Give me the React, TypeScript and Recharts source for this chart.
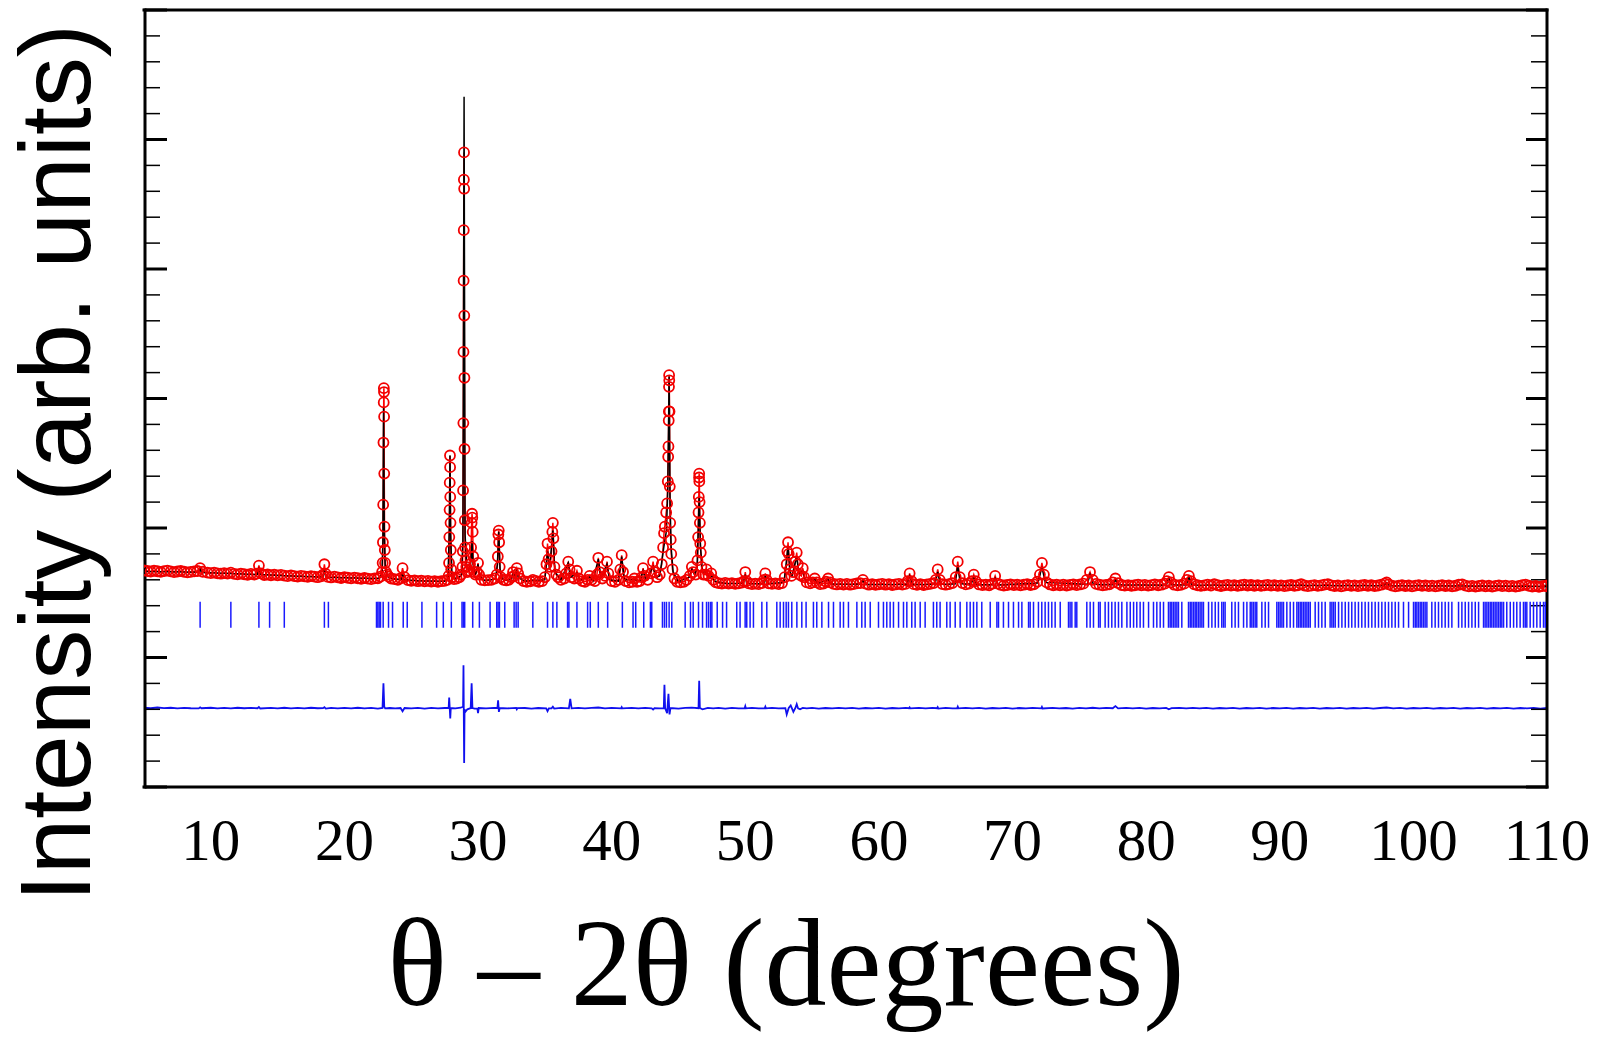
import React from 'react';
import { ComposedChart, Line, Scatter, XAxis, YAxis } from 'recharts';

// Powder diffraction refinement: observed (red circles), calculated (black),
// Bragg reflection markers (blue bars) and difference curve (blue).

const xMajorTicks = [10, 20, 30, 40, 50, 60, 70, 80, 90, 100, 110];
const xMinorTicks = [
  12, 14, 16, 18, 22, 24, 26, 28, 32, 34, 36, 38, 42, 44, 46, 48, 52, 54, 56, 58,
  62, 64, 66, 68, 72, 74, 76, 78, 82, 84, 86, 88, 92, 94, 96, 98, 102, 104, 106, 108,
];
const yMajorTicks = [0, 1, 2, 3, 4, 5, 6];
const yMinorTicks = [
  0.2, 0.4, 0.6, 0.8, 1.2, 1.4, 1.6, 1.8, 2.2, 2.4, 2.6, 2.8, 3.2, 3.4, 3.6, 3.8,
  4.2, 4.4, 4.6, 4.8, 5.2, 5.4, 5.6, 5.8,
];

// [2θ, intensity]
const observed: [number, number][] = [
  [5.0, 1.672], [5.25, 1.668], [5.5, 1.664], [5.75, 1.67], [6.0, 1.666], [6.25, 1.661], [6.5, 1.667], [6.75, 1.671],
  [7.0, 1.665], [7.25, 1.66], [7.5, 1.664], [7.75, 1.668], [8.0, 1.662], [8.25, 1.657], [8.5, 1.661], [8.75, 1.665],
  [9.0, 1.668], [9.2, 1.69], [9.4, 1.662], [9.75, 1.655], [10.0, 1.651], [10.25, 1.656], [10.5, 1.65], [10.75, 1.647],
  [11.0, 1.652], [11.25, 1.648], [11.5, 1.655], [11.75, 1.646], [12.0, 1.642], [12.25, 1.648], [12.5, 1.643], [12.75, 1.639],
  [13.0, 1.645], [13.25, 1.64], [13.45, 1.648], [13.6, 1.71], [13.75, 1.65], [14.0, 1.637], [14.25, 1.641], [14.5, 1.635],
  [14.75, 1.64], [15.0, 1.634], [15.25, 1.638], [15.5, 1.632], [15.75, 1.628], [16.0, 1.634], [16.25, 1.629], [16.5, 1.625],
  [16.75, 1.631], [17.0, 1.626], [17.25, 1.622], [17.5, 1.628], [17.75, 1.624], [18.0, 1.62], [18.25, 1.626], [18.4, 1.64],
  [18.5, 1.72], [18.6, 1.645], [18.75, 1.622], [19.0, 1.618], [19.25, 1.624], [19.5, 1.619], [19.75, 1.614], [20.0, 1.62],
  [20.25, 1.616], [20.5, 1.611], [20.75, 1.617], [21.0, 1.612], [21.25, 1.608], [21.5, 1.614], [21.75, 1.609], [22.0, 1.605],
  [22.25, 1.611], [22.5, 1.612], [22.7, 1.625], [22.82, 1.66], [22.86, 1.73], [22.88, 1.89], [22.9, 2.18], [22.92, 2.66],
  [22.94, 2.97], [22.95, 3.08], [22.96, 3.05], [22.97, 2.86], [22.98, 2.42], [23.0, 2.01], [23.02, 1.83], [23.04, 1.73],
  [23.1, 1.66], [23.2, 1.64], [23.3, 1.625], [23.5, 1.61], [23.75, 1.605], [24.0, 1.6], [24.2, 1.612], [24.35, 1.69],
  [24.5, 1.62], [24.75, 1.598], [25.0, 1.592], [25.25, 1.596], [25.5, 1.589], [25.75, 1.594], [26.0, 1.588], [26.25, 1.592],
  [26.5, 1.586], [26.75, 1.59], [27.0, 1.585], [27.25, 1.589], [27.5, 1.592], [27.7, 1.6], [27.8, 1.63], [27.83, 1.73],
  [27.85, 1.93], [27.87, 2.14], [27.88, 2.35], [27.9, 2.56], [27.91, 2.47], [27.92, 2.24], [27.94, 2.04], [27.96, 1.83],
  [27.99, 1.68], [28.05, 1.62], [28.2, 1.605], [28.4, 1.61], [28.6, 1.62], [28.75, 1.64], [28.83, 1.7], [28.86, 1.82],
  [28.88, 2.29], [28.9, 2.81], [28.91, 3.36], [28.92, 3.91], [28.93, 4.3], [28.94, 4.69], [28.95, 4.9], [28.96, 4.62],
  [28.97, 3.64], [28.98, 3.16], [28.99, 2.61], [29.01, 2.06], [29.03, 1.85], [29.06, 1.75], [29.12, 1.7], [29.2, 1.66],
  [29.3, 1.67], [29.4, 1.72], [29.48, 1.85], [29.52, 2.04], [29.55, 2.11], [29.57, 2.08], [29.6, 1.97], [29.64, 1.78],
  [29.7, 1.66], [29.8, 1.64], [29.92, 1.66], [30.0, 1.73], [30.08, 1.64], [30.25, 1.6], [30.5, 1.595], [30.75, 1.598],
  [31.0, 1.6], [31.25, 1.61], [31.4, 1.64], [31.48, 1.78], [31.52, 1.95], [31.55, 1.98], [31.58, 1.89], [31.62, 1.7],
  [31.7, 1.62], [31.9, 1.6], [32.1, 1.595], [32.3, 1.6], [32.5, 1.62], [32.62, 1.66], [32.72, 1.63], [32.9, 1.69],
  [33.0, 1.65], [33.15, 1.61], [33.4, 1.59], [33.65, 1.585], [33.9, 1.588], [34.1, 1.6], [34.3, 1.592], [34.55, 1.585],
  [34.8, 1.59], [35.0, 1.62], [35.12, 1.72], [35.2, 1.88], [35.28, 1.76], [35.38, 1.7], [35.5, 1.82], [35.56, 1.97],
  [35.6, 2.04], [35.64, 1.92], [35.72, 1.7], [35.85, 1.64], [36.0, 1.62], [36.2, 1.6], [36.45, 1.61], [36.6, 1.65],
  [36.75, 1.74], [36.85, 1.68], [37.0, 1.62], [37.2, 1.61], [37.4, 1.67], [37.55, 1.61], [37.8, 1.59], [38.0, 1.585],
  [38.2, 1.6], [38.35, 1.63], [38.5, 1.6], [38.75, 1.59], [38.9, 1.64], [39.0, 1.77], [39.1, 1.66], [39.3, 1.61],
  [39.5, 1.63], [39.65, 1.74], [39.75, 1.65], [40.0, 1.59], [40.25, 1.585], [40.5, 1.6], [40.65, 1.68], [40.75, 1.79],
  [40.85, 1.66], [41.05, 1.59], [41.3, 1.58], [41.55, 1.585], [41.7, 1.61], [41.9, 1.585], [42.1, 1.59], [42.25, 1.62],
  [42.35, 1.69], [42.45, 1.63], [42.7, 1.6], [42.95, 1.65], [43.1, 1.74], [43.2, 1.66], [43.4, 1.62], [43.6, 1.64],
  [43.75, 1.72], [43.85, 1.85], [43.92, 1.96], [43.98, 2.01], [44.08, 2.12], [44.15, 2.19], [44.2, 2.36], [44.23, 2.55],
  [44.25, 2.63], [44.27, 2.83], [44.28, 2.9], [44.29, 3.09], [44.3, 3.18], [44.31, 3.14], [44.33, 2.9], [44.35, 2.32],
  [44.38, 2.04], [44.42, 1.91], [44.46, 1.8], [44.55, 1.68], [44.7, 1.61], [44.9, 1.585], [45.15, 1.58], [45.4, 1.585],
  [45.6, 1.6], [45.85, 1.63], [46.0, 1.7], [46.1, 1.66], [46.3, 1.64], [46.42, 1.75], [46.47, 1.93], [46.5, 2.12],
  [46.52, 2.24], [46.54, 2.39], [46.55, 2.42], [46.56, 2.36], [46.58, 2.2], [46.6, 2.04], [46.63, 1.88], [46.67, 1.81],
  [46.72, 1.7], [46.85, 1.64], [47.0, 1.64], [47.1, 1.68], [47.25, 1.63], [47.45, 1.65], [47.6, 1.6], [47.8, 1.58],
  [48.0, 1.575], [48.25, 1.571], [48.5, 1.576], [48.75, 1.57], [49.0, 1.574], [49.25, 1.569], [49.5, 1.573], [49.75, 1.578],
  [49.9, 1.59], [50.0, 1.66], [50.1, 1.59], [50.25, 1.572], [50.5, 1.567], [50.75, 1.571], [51.0, 1.566], [51.25, 1.575],
  [51.4, 1.6], [51.5, 1.65], [51.6, 1.6], [51.75, 1.573], [52.0, 1.568], [52.25, 1.572], [52.5, 1.567], [52.75, 1.575],
  [52.95, 1.62], [53.1, 1.72], [53.15, 1.82], [53.2, 1.89], [53.25, 1.8], [53.32, 1.68], [53.45, 1.63], [53.6, 1.66],
  [53.75, 1.74], [53.85, 1.81], [53.93, 1.72], [54.05, 1.64], [54.2, 1.63], [54.3, 1.69], [54.4, 1.62], [54.6, 1.58],
  [54.85, 1.572], [55.05, 1.58], [55.2, 1.61], [55.35, 1.58], [55.6, 1.566], [55.85, 1.571], [56.05, 1.585], [56.2, 1.61],
  [56.35, 1.58], [56.6, 1.568], [56.85, 1.564], [57.1, 1.569], [57.35, 1.563], [57.6, 1.568], [57.85, 1.562], [58.1, 1.567],
  [58.35, 1.572], [58.6, 1.575], [58.8, 1.6], [59.0, 1.57], [59.25, 1.562], [59.5, 1.566], [59.75, 1.561], [60.0, 1.565],
  [60.25, 1.569], [60.5, 1.562], [60.75, 1.566], [61.0, 1.56], [61.25, 1.564], [61.5, 1.569], [61.75, 1.563], [62.0, 1.568],
  [62.15, 1.59], [62.3, 1.65], [62.45, 1.59], [62.6, 1.566], [62.85, 1.561], [63.1, 1.566], [63.35, 1.56], [63.6, 1.565],
  [63.85, 1.569], [64.1, 1.575], [64.25, 1.6], [64.4, 1.68], [64.55, 1.6], [64.75, 1.567], [65.0, 1.562], [65.25, 1.566],
  [65.5, 1.575], [65.75, 1.62], [65.9, 1.74], [66.05, 1.62], [66.25, 1.575], [66.5, 1.565], [66.75, 1.57], [66.95, 1.59],
  [67.1, 1.64], [67.25, 1.59], [67.5, 1.564], [67.75, 1.559], [68.0, 1.563], [68.25, 1.558], [68.5, 1.57], [68.7, 1.63],
  [68.9, 1.57], [69.1, 1.561], [69.35, 1.556], [69.6, 1.56], [69.85, 1.565], [70.1, 1.559], [70.35, 1.563], [70.6, 1.557],
  [70.85, 1.562], [71.1, 1.566], [71.35, 1.56], [71.6, 1.565], [71.85, 1.585], [72.05, 1.64], [72.2, 1.73], [72.35, 1.64],
  [72.55, 1.58], [72.8, 1.564], [73.05, 1.558], [73.3, 1.563], [73.55, 1.557], [73.8, 1.562], [74.05, 1.556], [74.3, 1.561],
  [74.55, 1.565], [74.8, 1.559], [75.05, 1.564], [75.3, 1.57], [75.55, 1.6], [75.8, 1.66], [76.0, 1.6], [76.25, 1.568],
  [76.5, 1.562], [76.75, 1.557], [77.0, 1.561], [77.25, 1.565], [77.5, 1.58], [77.7, 1.61], [77.9, 1.575], [78.15, 1.56],
  [78.4, 1.555], [78.65, 1.559], [78.9, 1.554], [79.15, 1.558], [79.4, 1.563], [79.65, 1.557], [79.9, 1.561], [80.15, 1.555],
  [80.4, 1.559], [80.65, 1.564], [80.9, 1.558], [81.15, 1.562], [81.4, 1.57], [81.55, 1.59], [81.7, 1.62], [81.85, 1.58],
  [82.1, 1.562], [82.35, 1.557], [82.6, 1.561], [82.85, 1.57], [83.05, 1.6], [83.2, 1.63], [83.35, 1.59], [83.6, 1.565],
  [83.85, 1.558], [84.1, 1.553], [84.35, 1.557], [84.6, 1.562], [84.85, 1.556], [85.1, 1.566], [85.35, 1.558], [85.6, 1.552],
  [85.85, 1.557], [86.1, 1.561], [86.35, 1.555], [86.6, 1.559], [86.85, 1.553], [87.1, 1.558], [87.35, 1.562], [87.6, 1.556],
  [87.85, 1.56], [88.1, 1.554], [88.35, 1.559], [88.6, 1.553], [88.85, 1.557], [89.1, 1.561], [89.35, 1.555], [89.6, 1.559],
  [89.85, 1.553], [90.1, 1.557], [90.35, 1.551], [90.6, 1.556], [90.85, 1.56], [91.1, 1.554], [91.35, 1.558], [91.6, 1.566],
  [91.85, 1.556], [92.1, 1.551], [92.35, 1.555], [92.6, 1.559], [92.85, 1.553], [93.1, 1.557], [93.35, 1.563], [93.6, 1.566],
  [93.85, 1.557], [94.1, 1.552], [94.35, 1.556], [94.6, 1.55], [94.85, 1.555], [95.1, 1.559], [95.35, 1.553], [95.6, 1.557],
  [95.85, 1.551], [96.1, 1.556], [96.35, 1.56], [96.6, 1.554], [96.85, 1.558], [97.1, 1.552], [97.35, 1.556], [97.6, 1.562],
  [97.85, 1.57], [98.0, 1.58], [98.15, 1.565], [98.4, 1.555], [98.65, 1.55], [98.9, 1.554], [99.15, 1.558], [99.4, 1.552],
  [99.65, 1.556], [99.9, 1.55], [100.15, 1.555], [100.4, 1.559], [100.65, 1.553], [100.9, 1.557], [101.15, 1.551], [101.4, 1.555],
  [101.65, 1.549], [101.9, 1.554], [102.15, 1.558], [102.4, 1.552], [102.65, 1.556], [102.9, 1.55], [103.15, 1.554], [103.4, 1.562],
  [103.65, 1.565], [103.9, 1.555], [104.15, 1.549], [104.4, 1.553], [104.65, 1.547], [104.9, 1.552], [105.15, 1.556], [105.4, 1.55],
  [105.65, 1.554], [105.9, 1.548], [106.15, 1.553], [106.4, 1.557], [106.65, 1.551], [106.9, 1.555], [107.15, 1.549], [107.4, 1.553],
  [107.65, 1.547], [107.9, 1.552], [108.15, 1.558], [108.4, 1.563], [108.65, 1.554], [108.9, 1.548], [109.15, 1.552], [109.4, 1.546],
  [109.65, 1.551], [109.9, 1.555], [110.0, 1.55],
];

// [2θ, intensity]
const calculated: [number, number][] = [
  [5, 1.665], [8, 1.66], [9.1, 1.659], [9.2, 1.68], [9.3, 1.657], [11, 1.65], [13.5, 1.641], [13.6, 1.68], [13.7, 1.64],
  [16, 1.63], [18.4, 1.621], [18.5, 1.68], [18.6, 1.62], [20, 1.616], [22.6, 1.61], [22.8, 1.64], [22.88, 1.9],
  [22.93, 2.93], [22.98, 2.0], [23.05, 1.7], [23.2, 1.63], [23.5, 1.61], [24.25, 1.602], [24.35, 1.66], [24.45, 1.6],
  [25.5, 1.592], [27.5, 1.588], [27.75, 1.61], [27.85, 2.0], [27.9, 2.56], [27.95, 1.95], [28.05, 1.64], [28.3, 1.61],
  [28.75, 1.63], [28.87, 1.9], [28.955, 5.33], [29.03, 1.95], [29.15, 1.7], [29.35, 1.67], [29.48, 1.75], [29.55, 1.9],
  [29.62, 1.72], [29.8, 1.64], [30.0, 1.72], [30.1, 1.63], [30.5, 1.595], [31.3, 1.605], [31.45, 1.72], [31.55, 1.97],
  [31.65, 1.68], [31.9, 1.6], [32.5, 1.6], [32.62, 1.65], [32.72, 1.62], [32.9, 1.67], [33.0, 1.62], [33.5, 1.59],
  [34.1, 1.595], [35.0, 1.6], [35.2, 1.82], [35.35, 1.68], [35.6, 1.98], [35.75, 1.66], [36.2, 1.6], [36.75, 1.73],
  [36.9, 1.62], [37.4, 1.65], [37.6, 1.6], [38.35, 1.62], [38.6, 1.59], [39.0, 1.76], [39.2, 1.62], [39.65, 1.72],
  [39.85, 1.6], [40.5, 1.59], [40.75, 1.78], [40.95, 1.6], [41.7, 1.6], [42.1, 1.59], [42.35, 1.67], [42.55, 1.6],
  [43.1, 1.7], [43.3, 1.62], [43.6, 1.63], [43.9, 1.85], [44.1, 1.98], [44.2, 2.3], [44.3, 3.17], [44.37, 2.2],
  [44.45, 1.85], [44.6, 1.66], [45.0, 1.585], [45.8, 1.62], [46.0, 1.68], [46.2, 1.64], [46.4, 1.7], [46.55, 2.24],
  [46.65, 1.85], [46.8, 1.66], [47.1, 1.66], [47.3, 1.61], [47.5, 1.63], [47.7, 1.59], [48.5, 1.572], [49.85, 1.574],
  [50.0, 1.64], [50.1, 1.572], [51.4, 1.57], [51.5, 1.63], [51.6, 1.57], [52.9, 1.58], [53.2, 1.86], [53.35, 1.66],
  [53.5, 1.63], [53.85, 1.78], [54.0, 1.65], [54.3, 1.67], [54.45, 1.6], [55.2, 1.6], [55.4, 1.572], [56.2, 1.6],
  [56.4, 1.568], [58.6, 1.565], [58.8, 1.59], [59.0, 1.564], [62.1, 1.566], [62.3, 1.63], [62.5, 1.564], [64.2, 1.566],
  [64.4, 1.66], [64.6, 1.566], [65.7, 1.568], [65.9, 1.71], [66.1, 1.57], [66.9, 1.565], [67.1, 1.62], [67.3, 1.562],
  [68.5, 1.561], [68.7, 1.61], [68.9, 1.56], [71.9, 1.575], [72.2, 1.7], [72.45, 1.58], [75.6, 1.565], [75.8, 1.64],
  [76.05, 1.565], [77.5, 1.562], [77.7, 1.6], [77.9, 1.562], [81.5, 1.558], [81.7, 1.61], [81.9, 1.562], [83.0, 1.56],
  [83.2, 1.62], [83.4, 1.56], [97.8, 1.555], [98.0, 1.575], [98.2, 1.555], [110, 1.549],
];

// [2θ, observed − calculated, offset below the pattern]
const difference: [number, number][] = [
  [5, 0.612], [5.5, 0.608], [6, 0.614], [6.5, 0.609], [7, 0.612], [7.5, 0.607], [8, 0.611], [8.5, 0.608], [9.1, 0.607],
  [9.2, 0.615], [9.3, 0.608], [10, 0.612], [10.5, 0.607], [11, 0.611], [11.5, 0.607], [12, 0.612], [12.5, 0.608],
  [13, 0.611], [13.5, 0.608], [13.6, 0.618], [13.7, 0.606], [14.5, 0.611], [15, 0.607], [15.5, 0.612], [16, 0.607],
  [16.5, 0.611], [17, 0.607], [17.5, 0.612], [18, 0.608], [18.4, 0.609], [18.5, 0.616], [18.6, 0.605], [19, 0.611],
  [19.5, 0.607], [20, 0.611], [20.5, 0.607], [21, 0.612], [21.5, 0.607], [22, 0.611], [22.5, 0.606], [22.85, 0.61],
  [22.92, 0.8], [22.98, 0.62], [23.05, 0.607], [23.4, 0.61], [23.8, 0.607], [24.2, 0.61], [24.35, 0.585], [24.5, 0.61],
  [25, 0.607], [25.5, 0.611], [26, 0.606], [26.5, 0.611], [27, 0.607], [27.5, 0.61], [27.8, 0.61], [27.84, 0.69],
  [27.88, 0.61], [27.92, 0.53], [27.96, 0.61], [28.3, 0.607], [28.7, 0.612], [28.88, 0.62], [28.91, 0.94], [28.93, 0.62],
  [28.96, 0.185], [28.99, 0.6], [29.05, 0.58], [29.2, 0.6], [29.45, 0.61], [29.52, 0.8], [29.58, 0.61], [29.75, 0.605],
  [29.95, 0.605], [30.0, 0.57], [30.05, 0.61], [30.6, 0.607], [31.2, 0.611], [31.45, 0.61], [31.5, 0.67], [31.56, 0.58],
  [31.62, 0.61], [32.2, 0.607], [32.85, 0.611], [32.9, 0.6], [32.95, 0.609], [33.5, 0.61], [34, 0.606], [34.5, 0.61],
  [35.1, 0.607], [35.2, 0.585], [35.3, 0.607], [35.5, 0.607], [35.6, 0.62], [35.7, 0.606], [36.2, 0.611], [36.8, 0.607],
  [36.9, 0.68], [37.0, 0.607], [37.5, 0.611], [38, 0.607], [38.5, 0.611], [39, 0.614], [39.5, 0.607], [40, 0.611],
  [40.7, 0.607], [40.75, 0.617], [40.8, 0.607], [41.5, 0.611], [42, 0.607], [42.5, 0.611], [43.0, 0.607], [43.1, 0.598],
  [43.2, 0.608], [43.6, 0.607], [43.9, 0.608], [43.95, 0.79], [44.0, 0.61], [44.15, 0.57], [44.25, 0.72], [44.33, 0.56],
  [44.4, 0.61], [45, 0.605], [45.5, 0.611], [46.0, 0.613], [46.5, 0.608], [46.55, 0.82], [46.6, 0.61], [46.8, 0.6],
  [47.2, 0.611], [47.6, 0.607], [48, 0.611], [48.5, 0.606], [49, 0.611], [49.5, 0.607], [49.95, 0.608], [50, 0.625],
  [50.05, 0.607], [50.5, 0.611], [51, 0.607], [51.45, 0.608], [51.5, 0.62], [51.55, 0.607], [52, 0.611], [52.5, 0.607],
  [53.0, 0.609], [53.1, 0.56], [53.25, 0.61], [53.4, 0.63], [53.5, 0.605], [53.6, 0.58], [53.75, 0.61], [53.85, 0.64],
  [53.95, 0.607], [54.1, 0.6], [54.3, 0.611], [54.6, 0.607], [55, 0.611], [55.5, 0.606], [56, 0.61], [56.5, 0.607],
  [57, 0.611], [57.5, 0.607], [58, 0.611], [58.5, 0.606], [59, 0.61], [59.5, 0.607], [60, 0.611], [60.5, 0.606],
  [61, 0.61], [61.5, 0.607], [62, 0.611], [62.25, 0.608], [62.3, 0.615], [62.35, 0.607], [63, 0.611], [63.5, 0.607],
  [64, 0.611], [64.35, 0.608], [64.4, 0.617], [64.45, 0.606], [65, 0.611], [65.5, 0.607], [65.85, 0.608], [65.9, 0.62],
  [65.95, 0.607], [66.5, 0.611], [67, 0.607], [67.5, 0.611], [68, 0.606], [68.5, 0.61], [69, 0.607], [69.5, 0.611],
  [70, 0.606], [70.5, 0.61], [71, 0.607], [71.5, 0.611], [72.15, 0.607], [72.2, 0.618], [72.25, 0.606], [73, 0.611],
  [73.5, 0.607], [74, 0.61], [74.5, 0.606], [75, 0.611], [75.5, 0.607], [76, 0.612], [76.5, 0.607], [77, 0.611],
  [77.5, 0.608], [77.7, 0.625], [77.9, 0.607], [78.5, 0.611], [79, 0.607], [79.5, 0.611], [80, 0.606], [80.5, 0.61],
  [81, 0.607], [81.5, 0.611], [81.7, 0.6], [81.9, 0.609], [82.5, 0.611], [83, 0.607], [83.5, 0.611], [84, 0.607],
  [84.5, 0.611], [85, 0.606], [85.5, 0.61], [86, 0.607], [86.5, 0.611], [87, 0.606], [87.5, 0.61], [88, 0.607],
  [88.5, 0.611], [89, 0.606], [89.5, 0.61], [90, 0.607], [90.5, 0.611], [91, 0.606], [91.5, 0.61], [92, 0.607],
  [92.5, 0.611], [93, 0.606], [93.5, 0.61], [94, 0.607], [94.5, 0.611], [95, 0.606], [95.5, 0.61], [96, 0.607],
  [96.5, 0.611], [97, 0.606], [97.5, 0.61], [98, 0.614], [98.5, 0.607], [99, 0.611], [99.5, 0.606], [100, 0.61],
  [100.5, 0.607], [101, 0.611], [101.5, 0.606], [102, 0.61], [102.5, 0.607], [103, 0.611], [103.5, 0.606], [104, 0.61],
  [104.5, 0.607], [105, 0.611], [105.5, 0.606], [106, 0.61], [106.5, 0.607], [107, 0.611], [107.5, 0.606], [108, 0.61],
  [108.5, 0.607], [109, 0.611], [109.5, 0.606], [110, 0.61],
];

// Bragg reflection positions (2θ)
const braggPositions = [
  9.2, 11.5, 13.6, 14.4, 15.5, 18.5, 18.8,
  22.4, 22.5, 22.6, 22.7, 22.9, 23.3, 23.6, 24.4, 24.7, 25.8, 26.9, 27.4, 28.0, 28.8, 28.9, 29.0, 29.6, 30.1,
  30.9, 31.4, 31.5, 31.6, 32.0, 32.7, 32.85, 33.0, 34.1, 35.2, 35.6, 35.9, 36.7, 36.8, 37.4, 38.2, 38.4, 39.0,
  39.7, 40.8, 41.6, 41.8, 42.4, 42.9, 43.0, 43.8, 43.95, 44.1, 44.3, 44.5, 45.5, 45.9, 46.1, 46.5, 46.8, 47.1,
  47.25, 47.4, 47.5, 47.9, 48.3, 48.6,
  49.36, 49.61, 49.99, 50.11, 50.36, 50.61, 51.24, 51.61, 52.36, 52.61, 52.86, 53.06, 53.23, 53.48, 53.86,
  54.23, 54.55, 55.1, 55.35, 55.73, 56.23, 56.6, 57.1, 57.35, 57.72, 58.35, 58.72, 58.97, 59.35, 59.97, 60.34,
  60.59, 60.84, 61.09, 61.47, 61.84, 62.09, 62.46, 62.71, 63.09, 63.46, 64.08, 64.33, 64.58, 65.08, 65.33,
  65.71, 66.08, 66.58, 66.83, 67.08, 67.33, 67.7, 68.33, 68.83, 68.95, 69.32, 69.7, 70.07, 70.45, 70.7, 71.2,
  71.32, 71.57, 71.94, 72.19, 72.44, 72.69, 72.94, 73.19, 73.57, 74.19, 74.31, 74.44, 74.69, 74.81, 75.56,
  75.81, 76.06, 76.44, 76.56, 76.93, 77.18, 77.43, 77.68, 77.93, 78.18, 78.56, 78.81, 79.06, 79.3, 79.55, 79.8,
  80.18, 80.55, 80.8, 81.05, 81.3, 81.67, 81.8, 81.92, 82.05, 82.17, 82.3, 82.42, 82.67, 83.17, 83.3, 83.42,
  83.55, 83.67, 83.79, 83.92, 84.04, 84.17, 84.29, 84.67, 84.92, 85.17, 85.41, 85.66, 85.79, 85.91, 86.41,
  86.66, 86.91, 87.29, 87.54, 87.79, 87.91, 88.03, 88.16, 88.28, 88.66, 88.91, 89.16, 89.78, 89.91, 90.03,
  90.16, 90.28, 90.53, 90.78, 91.03, 91.28, 91.4, 91.53, 91.65, 91.78, 91.9, 92.03, 92.15, 92.28, 92.65, 92.9,
  93.15, 93.4, 93.77, 93.9, 94.02, 94.15, 94.4, 94.65, 94.9, 95.15, 95.39, 95.64, 95.89, 96.14, 96.39, 96.64,
  96.89, 97.14, 97.39, 97.64, 97.89, 98.14, 98.39, 98.64, 98.89, 99.26, 99.64, 100.01, 100.14, 100.26, 100.38,
  100.51, 100.63, 100.76, 100.88, 101.01, 101.38, 101.63, 101.88, 102.13, 102.38, 102.63, 102.88, 103.38,
  103.63, 103.88, 104.13, 104.38, 104.63, 104.88, 105.25, 105.37, 105.5, 105.62, 105.75, 105.87, 106.0,
  106.12, 106.25, 106.37, 106.5, 106.62, 106.75, 106.99, 107.25, 107.5, 107.74, 107.99, 108.24, 108.37,
  108.49, 108.74, 108.99, 109.24, 109.49, 109.74, 109.87,
];
const braggLevel = 1.33;

const toRows = (pairs: [number, number][]) => pairs.map(([x, y]) => ({ x, y }));
const obsRows = toRows(observed);
const calcRows = toRows(calculated);
const diffRows = toRows(difference);
const braggRows = braggPositions.map((x) => ({ x, y: braggLevel }));

const X_DOMAIN: [number, number] = [5, 110];
const Y_DOMAIN: [number, number] = [0, 6];
const FRAME = { stroke: '#000', strokeWidth: 3, strokeLinecap: 'square' as const };
const MAJOR = { stroke: '#000', strokeWidth: 3 };
const MINOR = { stroke: '#000', strokeWidth: 1.5 };
const noLabel = () => <g />;

const XTickLabel = (props: any) => {
  const { x, y, payload } = props;
  return (
    <text
      x={x}
      y={y + 73}
      textAnchor="middle"
      fontFamily="'Liberation Serif', 'Times New Roman', serif"
      fontSize={59}
      fill="#000"
    >
      {payload.value}
    </text>
  );
};

const BraggBar = (props: any) => {
  const { cx, cy } = props;
  return <line x1={cx} x2={cx} y1={cy - 13} y2={cy + 13} stroke="#1a1aff" strokeWidth={1.5} />;
};

export default function App() {
  return (
    <div style={{ position: 'absolute', left: 0, top: 0, width: 1600, height: 1038, background: '#fff' }}>
      <ComposedChart width={1600} height={1038} margin={{ top: 10, right: 53, bottom: 191, left: 144 }}>
        <XAxis
          xAxisId="x"
          dataKey="x"
          type="number"
          domain={X_DOMAIN}
          allowDataOverflow
          ticks={xMajorTicks}
          height={60}
          axisLine={false}
          tickLine={false}
          tickSize={0}
          tickMargin={0}
          tick={<XTickLabel />}
        />
        <XAxis xAxisId="bMaj" type="number" domain={X_DOMAIN} allowDataOverflow ticks={xMajorTicks}
          orientation="bottom" mirror height={1} tickSize={12} axisLine={FRAME} tickLine={MAJOR} tick={noLabel} />
        <XAxis xAxisId="bMin" type="number" domain={X_DOMAIN} allowDataOverflow ticks={xMinorTicks}
          orientation="bottom" mirror height={1} tickSize={8} axisLine={false} tickLine={MINOR} tick={noLabel} />
        <XAxis xAxisId="tMaj" type="number" domain={X_DOMAIN} allowDataOverflow ticks={xMajorTicks}
          orientation="top" mirror height={1} tickSize={13} axisLine={FRAME} tickLine={MAJOR} tick={noLabel} />
        <XAxis xAxisId="tMin" type="number" domain={X_DOMAIN} allowDataOverflow ticks={xMinorTicks}
          orientation="top" mirror height={1} tickSize={7} axisLine={false} tickLine={MINOR} tick={noLabel} />

        <YAxis yAxisId="y" dataKey="y" type="number" domain={Y_DOMAIN} allowDataOverflow ticks={yMajorTicks}
          orientation="left" mirror width={1} tickSize={22} axisLine={FRAME} tickLine={MAJOR} tick={noLabel} />
        <YAxis yAxisId="lMin" type="number" domain={Y_DOMAIN} allowDataOverflow ticks={yMinorTicks}
          orientation="left" mirror width={1} tickSize={16} axisLine={false} tickLine={MINOR} tick={noLabel} />
        <YAxis yAxisId="rMaj" type="number" domain={Y_DOMAIN} allowDataOverflow ticks={yMajorTicks}
          orientation="right" mirror width={1} tickSize={21} axisLine={FRAME} tickLine={MAJOR} tick={noLabel} />
        <YAxis yAxisId="rMin" type="number" domain={Y_DOMAIN} allowDataOverflow ticks={yMinorTicks}
          orientation="right" mirror width={1} tickSize={15} axisLine={false} tickLine={MINOR} tick={noLabel} />

        <Line
          xAxisId="x"
          yAxisId="y"
          data={obsRows}
          dataKey="y"
          type="linear"
          stroke="#ff0000"
          strokeWidth={1.5}
          dot={{ r: 5, stroke: '#f20000', strokeWidth: 1.8, fill: 'none' }}
          activeDot={false}
          isAnimationActive={false}
        />
        <Line
          xAxisId="x"
          yAxisId="y"
          data={calcRows}
          dataKey="y"
          type="linear"
          stroke="#000"
          strokeWidth={1.5}
          dot={false}
          activeDot={false}
          isAnimationActive={false}
        />
        <Scatter
          xAxisId="x"
          yAxisId="y"
          data={braggRows}
          dataKey="y"
          shape={<BraggBar />}
          isAnimationActive={false}
        />
        <Line
          xAxisId="x"
          yAxisId="y"
          data={diffRows}
          dataKey="y"
          type="linear"
          stroke="#1010ee"
          strokeWidth={1.8}
          dot={false}
          activeDot={false}
          isAnimationActive={false}
        />
      </ComposedChart>
      <svg
        width={1600}
        height={1038}
        style={{ position: 'absolute', left: 0, top: 0, pointerEvents: 'none' }}
      >
        <text
          transform="translate(90, 463) rotate(-90)"
          textAnchor="middle"
          fontFamily="'Liberation Sans', Arial, sans-serif"
          fontSize={100}
          fill="#000"
        >
          Intensity (arb. units)
        </text>
        <text
          x={786}
          y={1005}
          textAnchor="middle"
          fontFamily="'Liberation Serif', 'Times New Roman', serif"
          fontSize={124}
          fill="#000"
        >
          θ – 2θ (degrees)
        </text>
      </svg>
    </div>
  );
}
